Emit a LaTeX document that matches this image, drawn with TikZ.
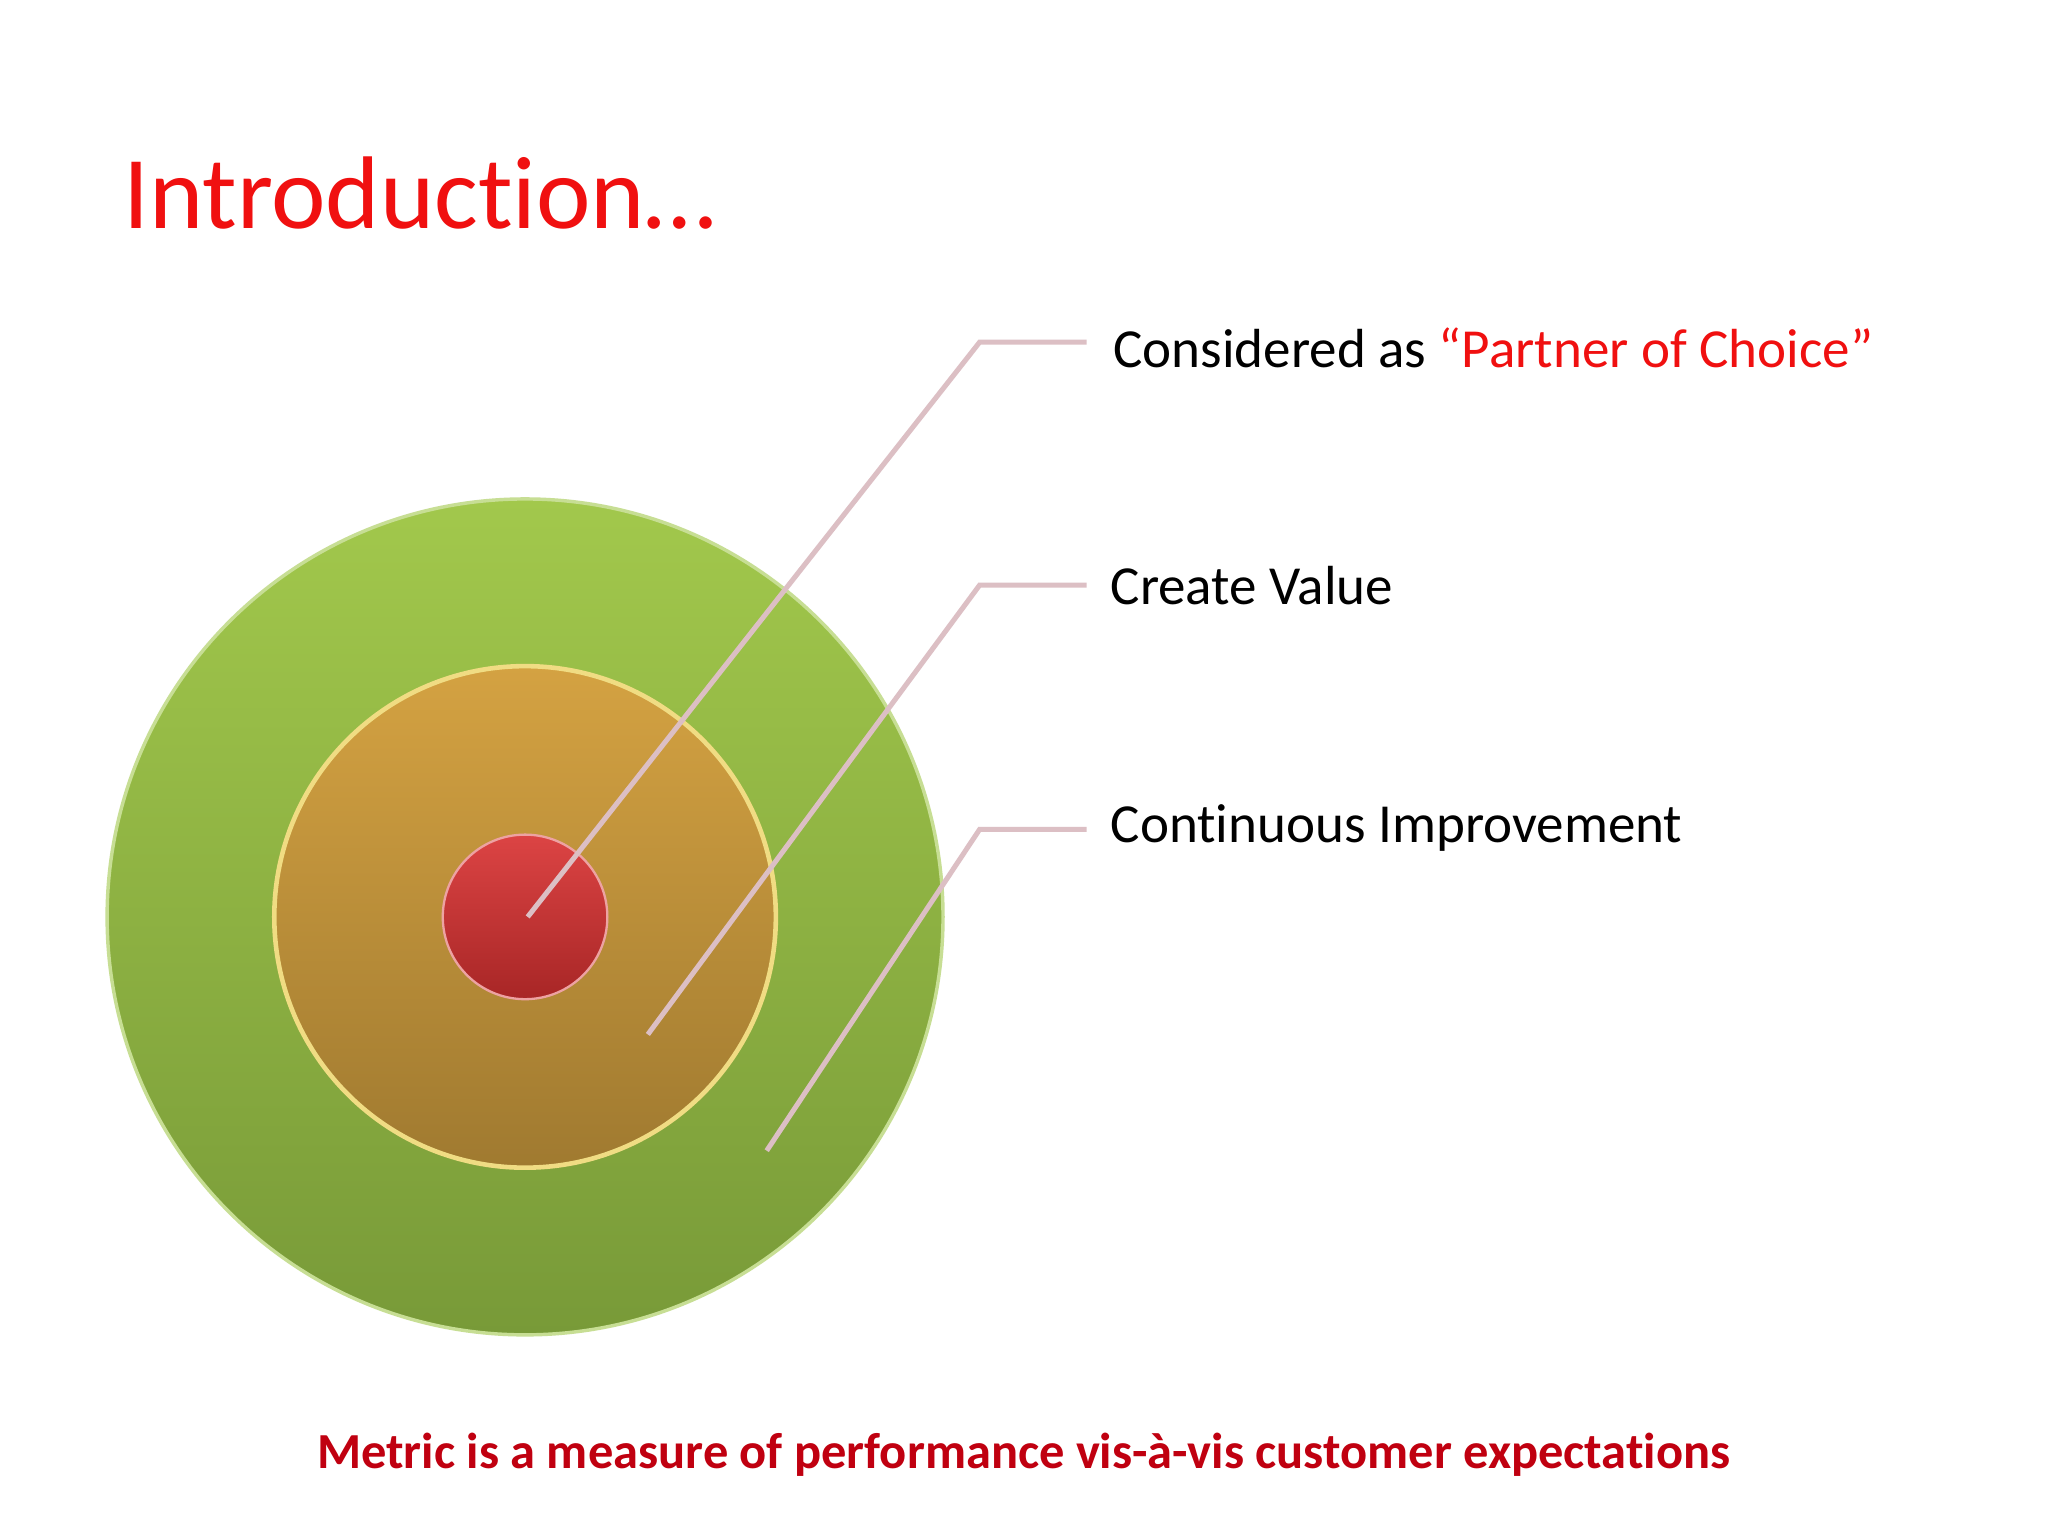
\documentclass[tikz,border=0pt]{standalone}
\usepackage{fontspec}
\setmainfont[Ligatures={NoCommon}]{Carlito}
\definecolor{tred}{HTML}{F01010}
\definecolor{dred}{HTML}{C00010}
\definecolor{lnk}{HTML}{DCBFC4}
\definecolor{gtop}{HTML}{A2C84C}
\definecolor{gbot}{HTML}{789A38}
\definecolor{otop}{HTML}{D4A242}
\definecolor{obot}{HTML}{A07A30}
\definecolor{rtop}{HTML}{DC4444}
\definecolor{rbot}{HTML}{A82626}
\begin{document}
\begin{tikzpicture}[x=0.02cm,y=-0.02cm,
  lead/.style={draw=lnk,line width=2.2pt},
  lab/.style={anchor=west,font=\fontsize{24}{28}\selectfont,inner sep=0pt}]
\useasboundingbox (0,0) rectangle (1568,1176);
\fill[white] (0,0) rectangle (1568,1176);
\node[anchor=west,text=tred,font=\fontsize{45}{54}\selectfont,inner sep=0pt] (title) at (94,148) {Introduction…};
\shade[top color=gtop,bottom color=gbot,draw=gtop!60!white,line width=1.5pt] (402,702) circle (320);
\shade[top color=otop,bottom color=obot,draw=yellow!40!otop!60!white,line width=2pt] (402,702) circle (192);
\shade[top color=rtop,bottom color=rbot,draw=rtop!50!white,line width=1pt] (402,702) circle (63);
\coordinate (p1) at (404,702);
\coordinate (p2) at (496,792);
\coordinate (p3) at (587,881);
\node[lab] (l1) at (852,266) {Considered as \textcolor{tred}{“Partner of Choice”}};
\node[lab] (l2) at (850,448) {Create Value};
\node[lab] (l3) at (850,634) {Continuous Improvement};
\draw[lead] (p1) -- (750,262) -- (832,262);
\draw[lead] (p2) -- (750,448) -- (832,448);
\draw[lead] (p3) -- (750,635) -- (832,635);
\node[text=dred,font=\fontsize{22}{26}\selectfont\bfseries,inner sep=0pt] (foot) at (784,1114) {Metric is a measure of performance vis-à-vis customer expectations};
\end{tikzpicture}
\end{document}
